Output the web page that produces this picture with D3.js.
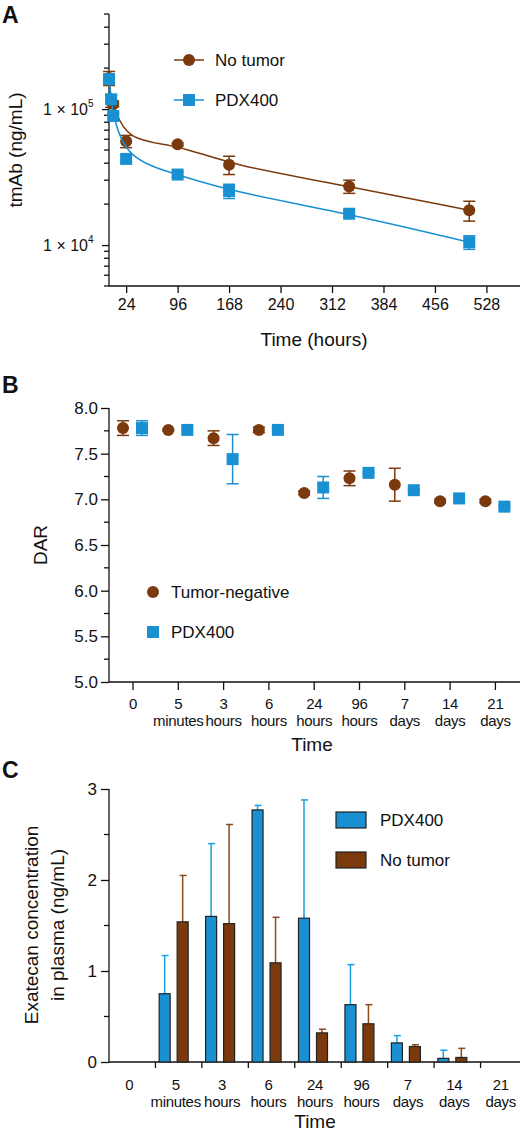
<!DOCTYPE html>
<html><head><meta charset="utf-8">
<script src="https://cdn.jsdelivr.net/npm/d3@7"></script>
<style>
body{margin:0;background:#fff;font-family:"Liberation Sans",Arial,sans-serif;}
text{fill:#111;}
</style></head><body>
<svg id="fig" width="520" height="1133"></svg>
<script>
const brown = "#7b3a0d", blue = "#1990d2";

// Panel A data
const timesA = [0.083, 3, 6, 24, 96, 168, 336, 504];
const noTumorA = [169000, 115000, 109000, 58000, 55000, 39000, 27000, 18000];
const noTumorAErr = [20000, 12000, 5000, 6000, 1500, 6000, 3000, 3000];
const pdxA = [166000, 118000, 89000, 43000, 33000, 25000, 17000, 10500];
const pdxAErr = [12000, 8000, 4000, 2000, 1500, 3000, 800, 1200];
const xTicksA = [24, 96, 168, 240, 312, 384, 456, 528];

// Panel B data
const categories = ["0|", "5|minutes", "3|hours", "6|hours", "24|hours", "96|hours", "7|days", "14|days", "21|days"];
const tumorNegB = [7.78, 7.76, 7.67, 7.76, 7.07, 7.23, 7.16, 6.98, 6.98];
const tumorNegBErr = [0.08, 0.01, 0.08, 0.03, 0.02, 0.08, 0.18, 0.02, 0.02];
const pdxB = [7.78, 7.76, 7.44, 7.76, 7.13, 7.29, 7.10, 7.01, 6.92];
const pdxBErr = [0.08, 0.02, 0.27, 0.02, 0.12, 0.01, 0.01, 0.01, 0.01];

// Panel C data
const pdxC = [0, 0.75, 1.60, 2.77, 1.58, 0.63, 0.21, 0.04, 0];
const pdxCErr = [0, 0.42, 0.80, 0.05, 1.30, 0.44, 0.08, 0.09, 0];
const noTumorC = [0, 1.54, 1.52, 1.09, 0.32, 0.42, 0.17, 0.05, 0];
const noTumorCErr = [0, 0.51, 1.09, 0.50, 0.04, 0.21, 0.02, 0.10, 0];

const svg = d3.select("#fig");
const FT = 16, FL = 19, FG = 17;

function panelLetter(t, y) {
  svg.append("text").attr("x", 2).attr("y", y).attr("font-size", 23).attr("font-weight", "bold").text(t);
}
function styleAxis(g) {
  g.selectAll("path,line").attr("stroke", "#111").attr("stroke-width", 1.3);
  g.selectAll("text").attr("font-size", FT).attr("fill", "#111");
}
function catLabels(g, x, y) {
  categories.forEach((c, i) => {
    const [a, b] = c.split("|");
    const t = g.append("text").attr("text-anchor", "middle").attr("font-size", 15).attr("letter-spacing", -0.3).attr("x", x(i)).attr("y", y);
    t.append("tspan").attr("x", x(i)).text(a);
    if (b) t.append("tspan").attr("x", x(i)).attr("dy", 17).text(b);
  });
}

/* ---------- Panel A ---------- */
panelLetter("A", 23);
{
  const x = d3.scaleLinear().domain([0, 575]).range([109, 520]);
  const y = d3.scaleLog().domain([5000, 500000]).range([286, 14]);
  const gy = svg.append("g").attr("transform", "translate(109,0)")
    .call(d3.axisLeft(y).tickValues([1e4, 1e5]).tickFormat(() => "").tickSize(7));
  const minor = [];
  [1000, 10000, 100000].forEach(d => d3.range(2, 10).forEach(k => { const v = d * k; if (v >= 5000 && v <= 500000 && v !== 1e4 && v !== 1e5) minor.push(v); }));
  gy.selectAll(".minor").data(minor).join("line").attr("x1", 0).attr("x2", -5).attr("y1", y).attr("y2", y);
  styleAxis(gy);
  gy.select(".domain").attr("d", "M0,14V286");
  [[1e4, "4"], [1e5, "5"]].forEach(([v, e]) => {
    svg.append("text").attr("x", 88).attr("y", y(v) + 6).attr("text-anchor", "end").attr("font-size", FT).text("1 × 10");
    svg.append("text").attr("x", 88).attr("y", y(v) - 2).attr("font-size", 10).text(e);
  });
  const gx = svg.append("g").attr("transform", "translate(0,286)")
    .call(d3.axisBottom(x).tickValues(xTicksA).tickSize(7).tickPadding(6));
  styleAxis(gx);
  gx.select(".domain").attr("d", "M109,0H520");
  svg.append("text").attr("x", 314).attr("y", 346).attr("text-anchor", "middle").attr("font-size", FL).text("Time (hours)");
  svg.append("text").attr("transform", "translate(22,150) rotate(-90)").attr("text-anchor", "middle").attr("font-size", FL).text("tmAb (ng/mL)");

  const line = d3.line().x((d, i) => x(timesA[i])).y(d => y(d)).curve(d3.curveBasis);
  [[noTumorA, noTumorAErr, brown, "c"], [pdxA, pdxAErr, blue, "s"]].forEach(([vals, err, col, sh]) => {
    svg.append("path").attr("d", line(vals)).attr("fill", "none").attr("stroke", col).attr("stroke-width", 1.5);
    vals.forEach((v, i) => {
      const cx = x(timesA[i]);
      const g = svg.append("g").attr("stroke", col).attr("stroke-width", 1.5);
      g.append("line").attr("x1", cx).attr("x2", cx).attr("y1", y(v - err[i])).attr("y2", y(v + err[i]));
      [v - err[i], v + err[i]].forEach(e => g.append("line").attr("x1", cx - 6).attr("x2", cx + 6).attr("y1", y(e)).attr("y2", y(e)));
      if (sh === "c") svg.append("circle").attr("cx", cx).attr("cy", y(v)).attr("r", 6).attr("fill", col);
      else svg.append("rect").attr("x", cx - 6).attr("y", y(v) - 6).attr("width", 12).attr("height", 12).attr("fill", col);
    });
  });
  [["No tumor", brown, "c", 60], ["PDX400", blue, "s", 100]].forEach(([t, col, sh, ly]) => {
    svg.append("line").attr("x1", 174).attr("x2", 204).attr("y1", ly).attr("y2", ly).attr("stroke", col).attr("stroke-width", 1.5);
    if (sh === "c") svg.append("circle").attr("cx", 189).attr("cy", ly).attr("r", 6).attr("fill", col);
    else svg.append("rect").attr("x", 183).attr("y", ly - 6).attr("width", 12).attr("height", 12).attr("fill", col);
    svg.append("text").attr("x", 215).attr("y", ly + 6).attr("font-size", FG).text(t);
  });
}

/* ---------- Panel B ---------- */
panelLetter("B", 393);
{
  const x = i => 133 + i * 45.3;
  const y = d3.scaleLinear().domain([5, 8]).range([682, 408]);
  const gy = svg.append("g").attr("transform", "translate(109,0)")
    .call(d3.axisLeft(y).tickValues(d3.range(5, 8.01, 0.5)).tickFormat(d3.format(".1f")).tickSize(8).tickPadding(3));
  gy.selectAll(".minor").data(d3.range(5.25, 8, 0.5)).join("line").attr("x1", 0).attr("x2", -5).attr("y1", y).attr("y2", y);
  styleAxis(gy);
  gy.selectAll("text").attr("font-size", 17);
  gy.select(".domain").attr("d", "M0,408V682");
  const gx = svg.append("g");
  gx.append("line").attr("x1", 109).attr("x2", 520).attr("y1", 682).attr("y2", 682).attr("stroke", "#111").attr("stroke-width", 1.3);
  categories.forEach((c, i) => gx.append("line").attr("x1", x(i)).attr("x2", x(i)).attr("y1", 682).attr("y2", 690).attr("stroke", "#111").attr("stroke-width", 1.3));
  catLabels(gx, x, 709);
  svg.append("text").attr("x", 312).attr("y", 751).attr("text-anchor", "middle").attr("font-size", FL).text("Time");
  svg.append("text").attr("transform", "translate(47,545) rotate(-90)").attr("text-anchor", "middle").attr("font-size", FL).text("DAR");

  [[tumorNegB, tumorNegBErr, brown, "c", -10], [pdxB, pdxBErr, blue, "s", 9]].forEach(([vals, err, col, sh, off]) => {
    vals.forEach((v, i) => {
      const cx = x(i) + off;
      const g = svg.append("g").attr("stroke", col).attr("stroke-width", 1.5);
      g.append("line").attr("x1", cx).attr("x2", cx).attr("y1", y(v - err[i])).attr("y2", y(v + err[i]));
      [v - err[i], v + err[i]].forEach(e => g.append("line").attr("x1", cx - 6).attr("x2", cx + 6).attr("y1", y(e)).attr("y2", y(e)));
      if (sh === "c") svg.append("circle").attr("cx", cx).attr("cy", y(v)).attr("r", 6).attr("fill", col);
      else svg.append("rect").attr("x", cx - 6).attr("y", y(v) - 6).attr("width", 12).attr("height", 12).attr("fill", col);
    });
  });
  [["Tumor-negative", brown, "c", 592], ["PDX400", blue, "s", 632]].forEach(([t, col, sh, ly]) => {
    if (sh === "c") svg.append("circle").attr("cx", 153).attr("cy", ly).attr("r", 6).attr("fill", col);
    else svg.append("rect").attr("x", 147).attr("y", ly - 6).attr("width", 12).attr("height", 12).attr("fill", col);
    svg.append("text").attr("x", 171).attr("y", ly + 6).attr("font-size", FG).text(t);
  });
}

/* ---------- Panel C ---------- */
panelLetter("C", 778);
{
  const band = d3.scaleBand().domain(d3.range(9)).range([109, 527]).paddingInner(0);
  const cx = i => band(i) + band.bandwidth() / 2 - 4;
  const y = d3.scaleLinear().domain([0, 3]).range([1062, 789]);
  const gy = svg.append("g").attr("transform", "translate(109,0)")
    .call(d3.axisLeft(y).ticks(3).tickSize(8).tickPadding(4));
  gy.selectAll(".minor").data([0.5, 1.5, 2.5]).join("line").attr("x1", 0).attr("x2", -5).attr("y1", y).attr("y2", y);
  styleAxis(gy);
  gy.selectAll("text").attr("font-size", 17);
  gy.select(".domain").attr("d", "M0,789V1062");
  const gx = svg.append("g");
  gx.append("line").attr("x1", 109).attr("x2", 520).attr("y1", 1062).attr("y2", 1062).attr("stroke", "#111").attr("stroke-width", 1.3);
  d3.range(1, 9).forEach(i => gx.append("line").attr("x1", band(i)).attr("x2", band(i)).attr("y1", 1062).attr("y2", 1068).attr("stroke", "#111").attr("stroke-width", 1.3));
  catLabels(gx, i => cx(i) + 1, 1090);
  svg.append("text").attr("x", 315).attr("y", 1128).attr("text-anchor", "middle").attr("font-size", FL).text("Time");
  const yl = svg.append("text").attr("transform", "translate(0,925) rotate(-90)").attr("text-anchor", "middle").attr("font-size", FL);
  yl.append("tspan").attr("x", 0).attr("y", 38).text("Exatecan concentration");
  yl.append("tspan").attr("x", 0).attr("y", 64).text("in plasma (ng/mL)");

  const bw = 11;
  [[pdxC, pdxCErr, blue, -10, "#1aa0e6"], [noTumorC, noTumorCErr, brown, 8, "#8a4a1a"]].forEach(([vals, err, col, off, ecol]) => {
    vals.forEach((v, i) => {
      if (v <= 0) return;
      const bx = cx(i) + off;
      svg.append("line").attr("x1", bx).attr("x2", bx).attr("y1", y(v)).attr("y2", y(v + err[i])).attr("stroke", ecol).attr("stroke-width", 1.5);
      svg.append("line").attr("x1", bx - 3).attr("x2", bx + 4).attr("y1", y(v + err[i])).attr("y2", y(v + err[i])).attr("stroke", ecol).attr("stroke-width", 1.5);
      svg.append("rect").attr("x", bx - bw / 2).attr("y", y(v)).attr("width", bw).attr("height", y(0) - y(v))
        .attr("fill", col).attr("stroke", "#222").attr("stroke-width", 1.2);
    });
  });
  [["PDX400", blue, 820], ["No tumor", brown, 860]].forEach(([t, col, ly]) => {
    svg.append("rect").attr("x", 336).attr("y", ly - 8).attr("width", 30).attr("height", 16).attr("fill", col).attr("stroke", "#222").attr("stroke-width", 1.2);
    svg.append("text").attr("x", 380).attr("y", ly + 6).attr("font-size", FG).text(t);
  });
}
</script>
</body></html>
